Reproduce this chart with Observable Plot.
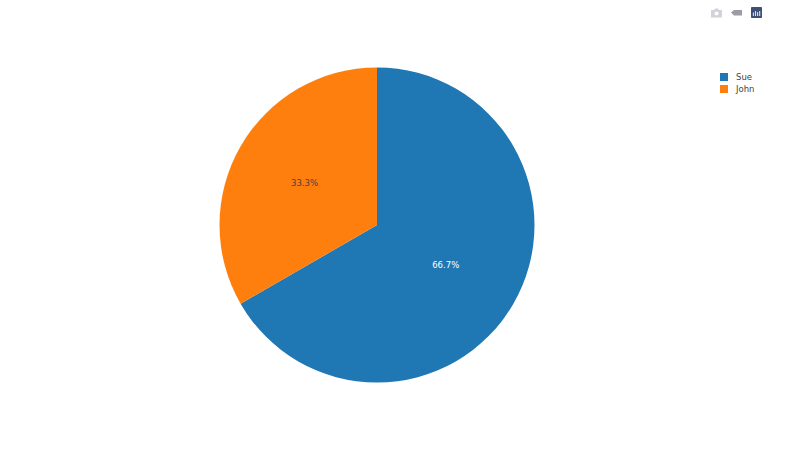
<!DOCTYPE html>
<html>
<head>
<meta charset="utf-8">
<style>
  html, body { margin: 0; padding: 0; background: #fff; }
  #chart { position: relative; width: 800px; height: 450px; overflow: hidden; font-family: "DejaVu Sans", sans-serif; }
  #chart > svg { position: absolute; left: 0; top: 0; }
  .legend { position: absolute; left: 720px; top: 70.6px; font-size: 8.5px; color: #444; }
  .legend div { display: flex; align-items: center; height: 12px; }
  .legend i { display: block; width: 8px; height: 8px; margin-right: 8px; }
  .modebar { position: absolute; left: 0; top: 0; }
</style>
<script src="https://cdn.jsdelivr.net/npm/d3@7"></script>
<script src="https://cdn.jsdelivr.net/npm/@observablehq/plot@0.6"></script>
</head>
<body>
<div id="chart"></div>
<script>
const names = ["Sue", "John"];
const values = [2, 1];
const colors = ["#1f77b4", "#ff7f0e"];
const textColors = ["#ffffff", "#444444"];
const labelRadius = [0.5, 0.535];

const total = d3.sum(values);
const arcs = d3.pie().sort(null)(values);
const slices = names.map((name, i) => {
  const mid = (arcs[i].startAngle + arcs[i].endAngle) / 2;
  return {
    name,
    startAngle: arcs[i].startAngle,
    endAngle: arcs[i].endAngle,
    label: (100 * values[i] / total).toFixed(1) + "%",
    labelX: labelRadius[i] * Math.sin(mid),
    labelY: labelRadius[i] * Math.cos(mid),
    textColor: textColors[i]
  };
});

// Plot has no arc mark: a small custom mark draws the slices through Plot's scales
function pieSlices(data) {
  return (index, scales) => {
    const cx = scales.x(0), cy = scales.y(0);
    const r = Math.abs(scales.x(1) - scales.x(0));
    const g = d3.create("svg:g").attr("transform", `translate(${cx},${cy})`);
    const arc = d3.arc().innerRadius(0).outerRadius(r);
    g.selectAll("path").data(data).join("path")
      .attr("d", d => arc(d))
      .attr("fill", d => scales.color(d.name));
    return g.node();
  };
}

const plot = Plot.plot({
  width: 800,
  height: 450,
  margin: 0,
  style: { background: "transparent", fontFamily: "'DejaVu Sans', sans-serif" },
  x: { domain: [-1, 1], range: [219.5, 534.5], axis: null },
  y: { domain: [-1, 1], range: [382.5, 67.5], axis: null },
  color: { domain: names, range: colors },
  marks: [
    pieSlices(slices),
    Plot.text(slices, {
      x: "labelX",
      y: "labelY",
      text: "label",
      fill: "textColor",
      fontSize: 8.5,
      textAnchor: "middle"
    })
  ]
});

const chart = document.getElementById("chart");
chart.appendChild(plot);

// Legend
const legend = document.createElement("div");
legend.className = "legend";
names.forEach((n, i) => {
  const row = document.createElement("div");
  const sw = document.createElement("i");
  sw.style.background = colors[i];
  const label = document.createElement("span");
  label.textContent = n;
  row.append(sw, label);
  legend.appendChild(row);
});
chart.appendChild(legend);

// Toolbar icons, top right
const bar = d3.create("svg").attr("class", "modebar").attr("width", 800).attr("height", 30);
const cam = bar.append("g").attr("transform", "translate(711,8.5)");
cam.append("path").attr("fill", "#d0d3d8")
  .attr("d", "M0 1.5h3l1-1.5h3l1 1.5h3v7.5h-11z");
cam.append("circle").attr("cx", 5.5).attr("cy", 5).attr("r", 2).attr("fill", "#fff");
bar.append("path").attr("fill", "#9a9ea4")
  .attr("d", "M731 12.5l3-2.5h8v5.5h-8z");
const logo = bar.append("g").attr("transform", "translate(751,7)");
logo.append("rect").attr("width", 11).attr("height", 11).attr("rx", 0.8).attr("fill", "#3f4f75");
logo.selectAll("line").data([2.4, 4.5, 6.6, 8.7]).join("line")
  .attr("x1", d => d).attr("x2", d => d)
  .attr("y1", (d, i) => [5.5, 4, 5, 4][i]).attr("y2", 9)
  .attr("stroke", "#d8e0ee").attr("stroke-width", 1.1);
chart.appendChild(bar.node());
</script>
</body>
</html>
